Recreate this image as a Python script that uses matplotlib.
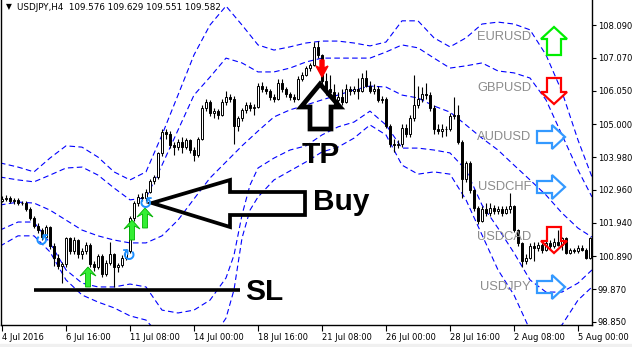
import matplotlib
matplotlib.use("Agg")
import matplotlib.pyplot as plt
from matplotlib.patches import Polygon, Rectangle

# USDJPY H4, bar 0 = 4 Jul 2016 00:00
opens = [102.62, 102.68, 102.72, 102.60, 102.66, 102.56, 102.55, 102.38, 102.10, 101.85,
         101.70, 101.48, 101.80, 101.20, 100.85, 100.60, 100.65, 101.45, 101.05, 101.40,
         100.98, 101.05, 101.25, 100.65, 100.55, 100.90, 100.35, 100.70, 100.95, 100.55,
         100.62, 100.85, 101.05, 102.10, 102.55, 102.75, 102.70, 102.90, 103.25, 103.35,
         104.10, 104.75, 104.70, 104.35, 104.30, 104.45, 104.30, 104.50, 104.20, 104.05,
         104.55, 105.50, 105.70, 105.35, 105.40, 105.30, 105.70, 105.85, 105.80, 104.95,
         105.20, 105.45, 105.60, 105.50, 105.55, 106.20, 106.10, 106.05, 105.85, 105.80,
         106.30, 106.10, 105.95, 105.85, 105.80, 106.40, 106.55, 106.75, 106.85, 107.40,
         107.15, 106.35, 106.10, 106.00, 105.75, 105.85, 105.70, 106.10, 106.05, 106.10,
         106.05, 106.45, 106.20, 106.05, 106.10, 105.75, 105.80, 104.95, 104.40, 104.35,
         104.40, 104.90, 104.70, 105.20, 105.60, 105.80, 105.95, 105.90, 105.50, 104.85,
         104.80, 104.85, 104.85, 105.25, 105.30, 104.45, 103.30, 103.80, 102.95, 102.40,
         102.00, 102.35, 102.25, 102.40, 102.30, 102.35, 102.25, 102.35, 102.45, 101.70,
         101.30, 100.75, 100.85, 101.20, 101.15, 101.25, 101.10, 101.30, 101.20, 101.35,
         101.25, 101.45, 101.00, 101.10, 101.05, 101.15, 101.10, 100.85]
highs = [102.78, 102.80, 102.76, 102.70, 102.70, 102.62, 102.60, 102.42, 102.15, 101.92,
         101.78, 101.88, 101.85, 101.30, 100.95, 100.72, 101.50, 101.50, 101.48, 101.42,
         101.15, 101.35, 101.30, 100.75, 100.98, 100.95, 100.78, 101.35, 101.00, 100.68,
         100.92, 101.12, 102.15, 102.62, 102.82, 102.85, 102.98, 103.30, 103.42, 104.15,
         104.85, 104.85, 104.78, 104.45, 104.55, 104.60, 104.58, 104.55, 104.28, 104.62,
         105.60, 105.80, 105.75, 105.50, 105.48, 105.78, 106.05, 105.95, 105.88, 105.25,
         105.52, 105.68, 105.70, 105.62, 106.30, 106.32, 106.18, 106.10, 105.95, 106.40,
         106.40, 106.15, 106.00, 105.95, 106.50, 106.62, 106.80, 106.92, 107.55, 107.60,
         107.20, 106.60, 106.55, 106.25, 106.00, 106.10, 106.25, 106.20, 106.20, 106.45,
         106.60, 106.70, 106.35, 106.25, 106.18, 105.88, 105.85, 105.00, 104.55, 104.50,
         105.00, 105.00, 105.30, 106.55, 106.20, 106.15, 106.30, 106.00, 105.60, 105.00,
         105.00, 104.95, 105.35, 105.85, 105.60, 104.50, 103.85, 103.85, 103.00, 102.45,
         102.45, 102.55, 102.55, 102.50, 102.45, 102.45, 102.45, 102.85, 102.50, 101.75,
         101.35, 100.95, 101.30, 101.35, 101.35, 101.30, 101.40, 101.40, 101.45, 101.70,
         101.50, 101.50, 101.15, 101.15, 101.25, 101.25, 101.15, 101.50]
lows = [102.58, 102.62, 102.55, 102.52, 102.50, 102.48, 102.30, 102.02, 101.78, 101.62,
        101.40, 101.42, 101.12, 100.60, 100.50, 100.05, 100.55, 100.95, 100.98, 100.85,
        100.80, 100.95, 100.55, 100.45, 100.50, 100.25, 100.28, 100.62, 99.95, 100.40,
        100.55, 100.78, 101.00, 102.00, 102.45, 102.60, 102.62, 102.85, 103.15, 103.30,
        104.00, 104.55, 104.25, 104.05, 104.20, 104.10, 104.22, 104.10, 103.85, 103.98,
        104.50, 105.40, 105.25, 105.20, 105.15, 105.25, 105.60, 105.70, 104.40, 104.80,
        105.10, 105.35, 105.40, 105.30, 105.50, 106.00, 105.95, 105.75, 105.70, 105.75,
        106.00, 105.85, 105.75, 105.70, 105.75, 106.35, 106.50, 106.65, 106.80, 107.05,
        106.20, 105.90, 105.85, 105.60, 105.65, 105.60, 105.65, 105.90, 105.95, 105.80,
        106.00, 106.15, 105.98, 105.95, 105.70, 105.65, 104.90, 104.30, 104.15, 104.25,
        104.30, 104.60, 104.62, 105.10, 105.50, 105.70, 105.80, 105.40, 104.70, 104.70,
        104.60, 104.65, 104.80, 105.15, 104.40, 102.70, 103.20, 102.85, 102.30, 101.90,
        101.95, 102.15, 102.15, 102.20, 102.20, 102.15, 102.20, 102.25, 101.65, 101.20,
        100.55, 100.65, 100.80, 100.75, 101.05, 101.00, 101.05, 101.10, 101.15, 101.20,
        101.10, 100.95, 100.95, 101.00, 101.00, 101.05, 100.80, 100.80]
closes = [102.68, 102.72, 102.60, 102.66, 102.56, 102.55, 102.38, 102.10, 101.85, 101.70,
          101.48, 101.80, 101.20, 100.85, 100.60, 100.65, 101.45, 101.05, 101.40, 100.98,
          101.05, 101.25, 100.65, 100.55, 100.90, 100.35, 100.70, 100.95, 100.55, 100.62,
          100.85, 101.05, 102.10, 102.55, 102.75, 102.70, 102.90, 103.25, 103.35, 104.10,
          104.75, 104.70, 104.35, 104.30, 104.45, 104.30, 104.50, 104.20, 104.05, 104.55,
          105.50, 105.70, 105.35, 105.40, 105.30, 105.70, 105.85, 105.80, 104.95, 105.20,
          105.45, 105.60, 105.50, 105.55, 106.20, 106.10, 106.05, 105.85, 105.80, 106.30,
          106.10, 105.95, 105.85, 105.80, 106.40, 106.55, 106.75, 106.85, 107.40, 107.15,
          106.35, 106.10, 106.00, 105.75, 105.85, 105.70, 106.10, 106.05, 106.10, 106.05,
          106.45, 106.20, 106.05, 106.10, 105.75, 105.80, 104.95, 104.40, 104.35, 104.40,
          104.90, 104.70, 105.20, 105.60, 105.80, 105.95, 105.90, 105.50, 104.85, 104.80,
          104.85, 104.85, 105.25, 105.30, 104.45, 103.30, 103.80, 102.95, 102.40, 102.00,
          102.35, 102.25, 102.40, 102.30, 102.35, 102.25, 102.35, 102.45, 101.70, 101.30,
          100.75, 100.85, 101.20, 101.15, 101.25, 101.10, 101.30, 101.20, 101.35, 101.25,
          101.45, 101.00, 101.10, 101.05, 101.15, 101.10, 100.85, 101.45]

# envelope lines: upper outer / upper inner / middle / lower inner / lower outer
env_bars = [-0.5, 4, 8, 12, 16, 20, 24, 28, 32, 36, 40, 44, 48, 52, 56, 60, 64, 68, 72,
            76, 80, 84, 88, 92, 96, 100, 104, 108, 112, 116, 120, 124, 128, 132, 136, 140,
            144, 147.5]
upper_outer = [103.80, 103.67, 103.52, 103.95, 104.33, 104.29, 103.98, 103.52, 103.27, 103.52,
               104.67, 105.91, 107.16, 108.09, 108.68, 108.09, 107.47, 107.31, 107.41, 107.53,
               107.59, 107.59, 107.53, 107.44, 107.56, 108.22, 108.22, 107.69, 107.41, 107.69,
               108.12, 108.18, 108.12, 107.94, 107.16, 106.01, 104.51, 103.36]
upper_inner = [103.36, 103.27, 103.21, 103.42, 103.64, 103.67, 103.42, 103.02, 102.65, 102.71,
               103.73, 104.82, 105.91, 106.47, 107.06, 106.91, 106.63, 106.63, 106.75, 106.94,
               107.06, 107.06, 107.06, 107.06, 107.25, 107.47, 107.38, 107.06, 106.75, 106.82,
               106.91, 106.66, 106.60, 106.44, 105.76, 104.67, 103.58, 102.74]
middle = [102.49, 102.58, 102.55, 102.33, 102.02, 101.71, 101.53, 101.40, 101.31, 101.31,
          101.53, 102.02, 102.68, 103.33, 103.83, 104.33, 104.79, 105.23, 105.45, 105.60,
          105.76, 105.91, 106.07, 106.19, 106.16, 105.91, 105.82, 105.57, 105.38, 104.98,
          104.57, 104.20, 103.73, 103.27, 102.80, 102.24, 101.77, 101.49]
lower_inner_bars = [-0.5, 4, 8, 12, 16, 20, 24, 28, 32, 36, 40, 44, 48, 52, 56, 58, 60, 62, 64,
                    68, 72, 76, 80, 84, 88, 92, 96, 100, 104, 108, 112, 116, 120, 124, 128, 132,
                    136, 140, 144, 147.5]
lower_inner = [101.71, 101.96, 101.96, 101.31, 100.47, 100.06, 99.94, 99.94, 100.03, 99.94,
               99.22, 99.13, 99.22, 99.53, 100.22, 100.93, 102.18, 103.11, 103.64, 103.95,
               104.20, 104.33, 104.67, 104.92, 105.07, 105.41, 104.98, 104.26, 104.26, 104.20,
               104.11, 103.58, 102.49, 101.77, 101.00, 100.16, 99.78, 99.78, 100.06, 100.47]
lower_outer_bars = [-0.5, 4, 8, 12, 16, 20, 24, 28, 32, 36, 40, 44, 48, 52, 54, 56, 58, 60, 62,
                    64, 68, 72, 76, 80, 84, 88, 92, 96, 100, 104, 108, 112, 116, 120, 124, 128,
                    132, 136, 140, 144, 147.5]
lower_outer = [101.21, 101.53, 101.53, 101.03, 100.16, 99.69, 99.47, 99.29, 99.04, 98.91,
               98.35, 97.98, 97.92, 98.29, 98.60, 98.97, 99.85, 101.46, 102.33, 102.74,
               103.27, 103.55, 103.83, 104.14, 104.29, 104.57, 104.98, 104.67, 103.73, 103.45,
               103.52, 103.45, 102.65, 101.56, 100.47, 99.69, 98.60, 98.45, 98.76, 99.53, 99.94]

price_ticks = [108.090, 107.070, 106.050, 105.000, 103.980, 102.960, 101.940, 100.890, 99.870, 98.850]
date_bars = [0, 16, 32, 48, 64, 80, 96, 112, 128, 144]
date_labels = ['4 Jul 2016', '6 Jul 16:00', '11 Jul 08:00', '14 Jul 00:00', '18 Jul 16:00',
               '21 Jul 08:00', '26 Jul 00:00', '28 Jul 16:00', '2 Aug 08:00', '5 Aug 00:00']
sl_price = 99.85
sl_from, sl_to = 8, 59.5
pairs = ['EURUSD', 'GBPUSD', 'AUDUSD', 'USDCHF', 'USDCAD', 'USDJPY']
pair_signal = ['up', 'down', 'flat', 'flat', 'down', 'flat']

W, H = 632, 347
fig = plt.figure(figsize=(W / 100, H / 100), dpi=100)
ax = fig.add_axes([1 / W, (H - 325) / H, 591 / W, 325 / H])
ax.set_xlim(-0.25, 147.5)
ax.set_ylim(98.756, 108.868)

# candles
for i in range(len(closes)):
    o, h, l, c = opens[i], highs[i], lows[i], closes[i]
    ax.vlines(i, l, h, color='black', lw=0.8, zorder=3)
    ax.bar(i, max(abs(c - o), 0.004), bottom=min(o, c), width=0.72,
           color='white' if c >= o else 'black', edgecolor='black', linewidth=0.7, zorder=4)

dash = (0, (5, 3))
ax.plot(env_bars, upper_outer, color='#0000ff', lw=0.8, ls=dash, zorder=2)
ax.plot(env_bars, upper_inner, color='#0000ff', lw=0.8, ls=dash, zorder=2)
ax.plot(env_bars, middle, color='#0000ff', lw=0.8, ls=dash, zorder=2)
ax.plot(lower_inner_bars, lower_inner, color='#0000ff', lw=0.8, ls=dash, zorder=2)
ax.plot(lower_outer_bars, lower_outer, color='#0000ff', lw=0.8, ls=dash, zorder=2)

ax.hlines(sl_price, sl_from, sl_to, color='black', lw=2.6, zorder=5)

ax.yaxis.tick_right()
ax.set_yticks(price_ticks)
ax.set_yticklabels(['%.3f' % p for p in price_ticks])
ax.set_xticks(date_bars)
ax.set_xticklabels(date_labels, ha='left')
ax.tick_params(axis='x', direction='out', length=4, width=0.8, labelsize=6, pad=1.5)
ax.tick_params(axis='y', direction='out', length=3, width=0.8, labelsize=6, pad=1.2)
ax.spines['top'].set_visible(False)
for s in ['left', 'right', 'bottom']:
    ax.spines[s].set_linewidth(1.0)

# overlay in pixel space for the drawn objects
ov = fig.add_axes([0, 0, 1, 1], zorder=5)
ov.set_xlim(0, W)
ov.set_ylim(H, 0)
ov.axis('off')
ov.patch.set_visible(False)

ov.add_patch(Rectangle((0, 344), W, 3, color='#f0f0f0'))
ov.text(6, 7, '\u25bc', fontsize=5.5, va='center')
ov.text(17, 7, 'USDJPY,H4  109.576 109.629 109.551 109.582', fontsize=6.3, va='center')


def outline(pts, color, lw):
    ov.add_patch(Polygon(pts, closed=True, fill=False, edgecolor=color, linewidth=lw,
                         joinstyle='miter'))


# Buy / TP arrows
outline([(152, 203), (230, 180), (230, 192), (305, 192), (305, 215), (230, 215), (230, 227)],
        'black', 2.7)
outline([(320, 84), (340, 107), (331, 107), (331, 129), (310, 129), (310, 107), (301, 107)],
        'black', 3.4)
ov.add_patch(Polygon([(320, 60), (324, 60), (324, 68), (328, 66), (322, 77), (316, 66), (320, 68)],
                     color='#ff0000'))

for cx, ty, by in [(88, 267, 287), (132, 220, 240), (145, 208, 228)]:
    ov.add_patch(Polygon([(cx, ty), (cx + 8, ty + 9), (cx + 2.5, ty + 6), (cx + 2.5, by),
                          (cx - 2.5, by), (cx - 2.5, ty + 6), (cx - 8, ty + 9)],
                         facecolor='#33ee33', edgecolor='#00b000', linewidth=0.6))

for (x, y, s) in [(42, 241, '\u21ba'), (129, 256, '\u21bb'), (146, 204, '\u21ba')]:
    ov.text(x, y, s, fontsize=12, color='#1e90ff', fontweight='bold', ha='center', va='center')

bold = dict(fontsize=21.5, fontweight='bold', family='Liberation Sans', color='black')
ov.text(321, 163, 'TP', ha='center', va='baseline', **bold)
ov.text(313, 210, 'Buy', ha='left', va='baseline', **bold)
ov.text(245, 300, 'SL', ha='left', va='baseline', **bold)

# currency strength panel
rows = [37, 88, 137, 187, 237, 287]
for name, sig, yc in zip(pairs, pair_signal, rows):
    ov.text(531, yc, name, ha='right', va='center', color='#8c8c8c', fontsize=9.3,
            family='Liberation Sans')
    if sig == 'up':
        t = yc - 10
        outline([(554, t), (567, t + 12), (561, t + 12), (561, t + 28), (547, t + 28),
                 (547, t + 12), (541, t + 12)], '#00ee00', 1.6)
    elif sig == 'down':
        t = yc - 10
        outline([(547, t), (561, t), (561, t + 14), (567, t + 14), (554, t + 26),
                 (541, t + 14), (547, t + 14)], '#ff0000', 1.6)
    else:
        outline([(537, yc - 6), (552, yc - 6), (552, yc - 12), (565, yc), (552, yc + 12),
                 (552, yc + 6), (537, yc + 6)], '#3399ff', 1.6)

fig.savefig('out.png', dpi=100)
